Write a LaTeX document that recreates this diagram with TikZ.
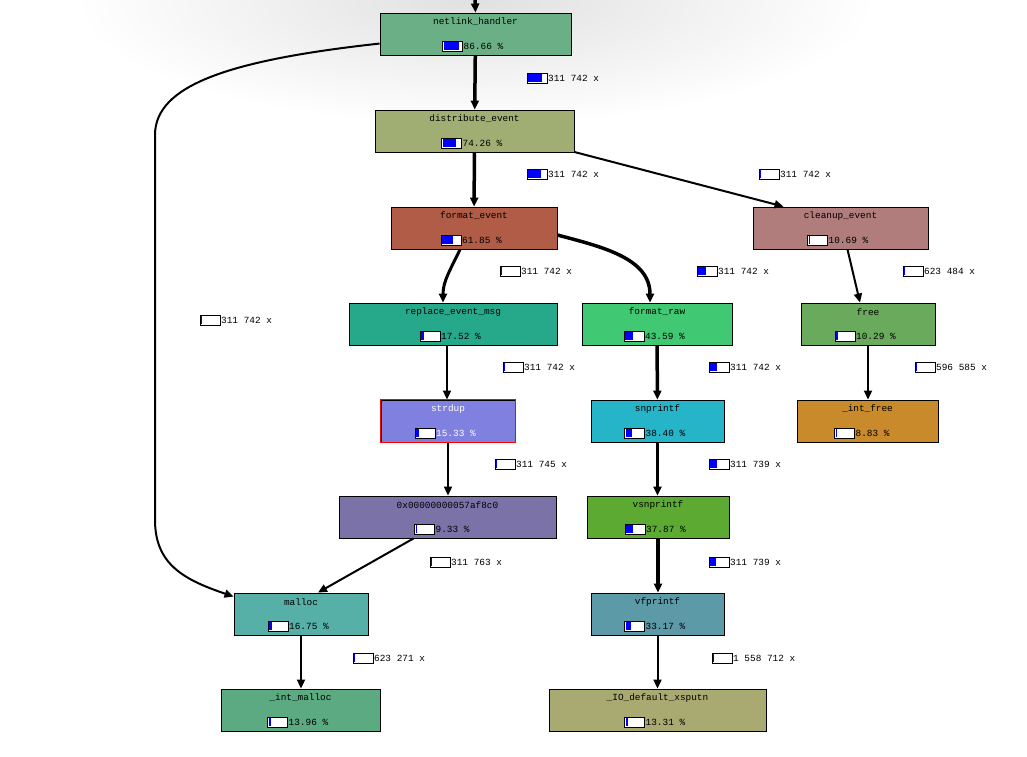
\documentclass[tikz,border=0pt]{standalone}
\usepackage{fontspec}
\newfontfamily\tmono{Liberation Mono}
\usetikzlibrary{arrows.meta,calc}
\definecolor{cNet}{HTML}{6AAF86}
\definecolor{cDist}{HTML}{A0AE74}
\definecolor{cFev}{HTML}{B05C46}
\definecolor{cClean}{HTML}{B07C7C}
\definecolor{cRep}{HTML}{26A88A}
\definecolor{cFraw}{HTML}{40C872}
\definecolor{cFree}{HTML}{6AAA5C}
\definecolor{cStr}{HTML}{8080E0}
\definecolor{cSnp}{HTML}{26B4C8}
\definecolor{cIfree}{HTML}{C88A2A}
\definecolor{cHex}{HTML}{7B72A8}
\definecolor{cVsn}{HTML}{5CAA32}
\definecolor{cMal}{HTML}{56B0A8}
\definecolor{cVfp}{HTML}{5C9AA8}
\definecolor{cImal}{HTML}{5CAA82}
\definecolor{cIO}{HTML}{A8AA72}
\tikzset{
  box/.style={draw=black, line width=0.9pt, minimum height=42pt, inner sep=0pt},
  txt/.style={font=\tmono\fontsize{9.4}{11}\selectfont, inner sep=0pt},
  e/.style={line width=2pt, -{Triangle[length=9pt,width=8pt]}},
  ethick/.style={line width=3.5pt, -{Triangle[length=9pt,width=8pt]}},
}
\newcommand\fnode[9][black]{%
  \node[box,fill=#6,minimum width=#5pt] (#2) at (#3,#4) {};
  \node[txt,text=#1] at ([shift={(0,-12)}]#2.center) {#7};
  \fill[white] ([shift={(-33,7)}]#2.center) rectangle ([shift={(-13,17)}]#2.center);
  \fill[blue] ([shift={(-32,8)}]#2.center) rectangle ([shift={(-32+18*#8,16)}]#2.center);
  \draw[line width=0.8pt] ([shift={(-33,7)}]#2.center) rectangle ([shift={(-13,17)}]#2.center);
  \node[txt,text=#1,anchor=west] at ([shift={(-12,12)}]#2.center) {#9~\%};
}
\newcommand\elab[4]{%
  \fill[white] (#1,#2-5) rectangle (#1+20,#2+5);
  \fill[blue] (#1+1,#2-4) rectangle (#1+1+18*#3,#2+4);
  \draw[line width=0.8pt] (#1,#2-5) rectangle (#1+20,#2+5);
  \node[txt,anchor=west] at (#1+21,#2) {#4};
}
\begin{document}
\begin{tikzpicture}[x=1pt,y=-1pt]
\useasboundingbox (0,0) rectangle (1027,756);
\shade[inner color=black!12, outer color=white] (475,0) ellipse [x radius=400, y radius=125];
\fnode{netlink}{475.5}{34}{191}{cNet}{netlink\_handler}{0.87}{86.66}
\fnode{dist}{474.5}{131}{199}{cDist}{distribute\_event}{0.74}{74.26}
\fnode{fev}{474}{228}{166}{cFev}{format\_event}{0.62}{61.85}
\fnode{clean}{840.5}{228}{175}{cClean}{cleanup\_event}{0.11}{10.69}
\fnode{rep}{453}{324}{208}{cRep}{replace\_event\_msg}{0.18}{17.52}
\fnode{fraw}{657}{324}{150}{cFraw}{format\_raw}{0.44}{43.59}
\fnode{free}{868}{324}{134}{cFree}{free}{0.10}{10.29}
\fnode[white]{strdup}{448}{421}{134}{cStr}{strdup}{0.15}{15.33}
\fnode{snp}{657.5}{421}{133}{cSnp}{snprintf}{0.38}{38.40}
\fnode{ifree}{867.5}{421}{141}{cIfree}{\_int\_free}{0.09}{8.83}
\fnode{hex}{447.5}{517}{217}{cHex}{0x00000000057af8c0}{0.09}{9.33}
\fnode{vsn}{658}{517}{142}{cVsn}{vsnprintf}{0.38}{37.87}
\fnode{malloc}{301}{614}{134}{cMal}{malloc}{0.17}{16.75}
\fnode{vfp}{657.5}{614}{133}{cVfp}{vfprintf}{0.33}{33.17}
\fnode{imal}{300.5}{710}{159}{cImal}{\_int\_malloc}{0.14}{13.96}
\fnode{io}{657.5}{710}{217}{cIO}{\_IO\_default\_xsputn}{0.13}{13.31}
\coordinate (top) at (475,0);
\draw[ethick] (top) -- (netlink.north);
\draw[ethick] (netlink) -- (dist);
\draw[ethick] (dist) -- (fev);
\draw[e] ([yshift=-21pt]dist.east) -- ([xshift=-57pt]clean.north);
\draw[line width=3pt, -{Triangle[length=9pt,width=8pt]}] ([xshift=-14pt]fev.south) to[out=-115,in=90] ([xshift=-10pt]rep.north);
\draw[ethick] ([yshift=-7pt]fev.east) to[out=-15,in=90] ([xshift=-7pt]fraw.north);
\draw[e] ([xshift=7pt]clean.south) -- ([xshift=-8pt]free.north);
\draw[e] ([xshift=-6pt]rep.south) -- ([xshift=-1pt]strdup.north);
\draw[ethick] (fraw) -- (snp);
\draw[e] (free) -- (ifree.north -| free.south);
\draw[e] (strdup) -- (hex.north -| strdup.south);
\draw[ethick] (snp) -- (vsn.north -| snp.south);
\draw[ethick] (vsn) -- (vfp.north -| vsn.south);
\draw[e] ([xshift=-34pt]hex.south) -- ([xshift=17pt]malloc.north);
\draw[e] ([yshift=-31pt]netlink.north west) .. controls (230,60) and (155,85) .. (155,135) -- (155,520) .. controls (155,565) and (185,580) .. ([yshift=-4pt]malloc.north west);
\draw[e] (malloc) -- (imal.north -| malloc.south);
\draw[e] (vfp) -- (io.north -| vfp.south);
\draw[red,line width=0.9pt] (strdup.north west) rectangle (strdup.south east);
\elab{527}{78}{0.78}{311 742 x}
\elab{527}{174}{0.72}{311 742 x}
\elab{759}{174}{0.08}{311 742 x}
\elab{500}{271}{0.08}{311 742 x}
\elab{697}{271}{0.45}{311 742 x}
\elab{903}{271}{0.08}{623 484 x}
\elab{200}{320}{0.08}{311 742 x}
\elab{503}{367}{0.08}{311 742 x}
\elab{709}{367}{0.4}{311 742 x}
\elab{915}{367}{0.06}{596 585 x}
\elab{495}{464}{0.05}{311 745 x}
\elab{709}{464}{0.4}{311 739 x}
\elab{430}{562}{0.05}{311 763 x}
\elab{709}{562}{0.35}{311 739 x}
\elab{353}{658}{0.05}{623 271 x}
\elab{712}{658}{0.05}{1 558 712 x}
\end{tikzpicture}
\end{document}
